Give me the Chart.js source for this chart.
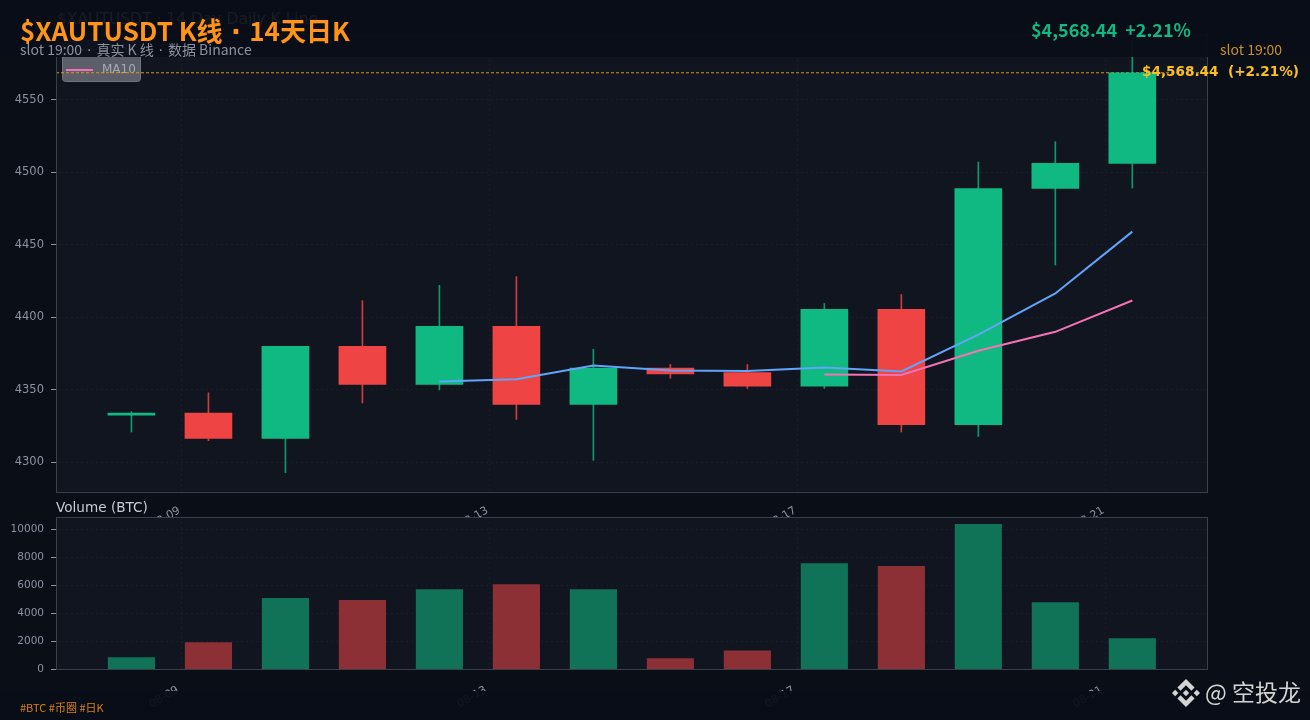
<!DOCTYPE html>
<html><head><meta charset="utf-8">
<script src="https://cdn.jsdelivr.net/npm/chart.js@4"></script>
<style>
html,body{margin:0;padding:0;background:#0a0e17;width:1310px;height:720px;overflow:hidden}
canvas{position:absolute;left:0}
.t{position:absolute;white-space:pre;line-height:1;font-family:"Noto Sans CJK SC","Noto Sans",sans-serif}
.d{display:inline-block;width:.57em;text-align:center;font-family:"DejaVu Sans"}
.band{position:absolute;left:0;width:1310px;background:rgba(10,14,23,.94)}
</style></head><body>
<canvas id="main" style="top:0"></canvas>
<canvas id="vol" style="top:517px"></canvas>
<div class="t" style="left:57px;top:10px;font:15.5px 'DejaVu Sans';color:#e5e7eb">$XAUTUSDT · 14 Day Daily K Line</div>
<div class="t" style="left:56px;top:499px;font:13.6px 'DejaVu Sans';color:#c8ccd4">Volume (BTC)</div>
<div class="band" style="top:0;height:57px"></div>
<div class="band" style="top:691px;height:29px"></div>
<div class="t" style="left:20px;top:17px;font-size:26px;font-weight:700;color:#ff9416">$XAUTUSDT K线 <span class="d">·</span> 14天日K</div>
<div class="t" style="left:20px;top:42px;font-size:14px;color:#8b92a0">slot 19:00 <span class="d">·</span> 真实 K 线 <span class="d">·</span> 数据 Binance</div>
<div class="t" style="left:1031px;top:20px;font-size:18px;font-weight:700;color:#10b981">$4,568.44  +2.21%</div>
<div class="t" style="left:1220px;top:42px;font-size:14px;color:#c8902a">slot 19:00</div>
<div class="t" style="left:1142px;top:63px;font:bold 13.6px 'DejaVu Sans';color:#fbbf24">$4,568.44  (+2.21%)</div>
<div class="t" style="left:20px;top:702px;font-size:11px;color:#d9800f">#BTC #币圈 #日K</div>
<svg style="position:absolute;left:1172px;top:679px" width="28" height="28" viewBox="0 0 24 24" fill="#d4d4d4"><path d="M16.624 13.92l2.718 2.72-7.353 7.353L4.636 16.64l2.718-2.72 4.635 4.64zm4.64-4.64L24 12l-2.718 2.72L18.55 12zm-9.28 0l2.72 2.72-2.72 2.72-2.72-2.71v-.01l.48-.48.23-.23zM2.718 9.28L5.44 12l-2.72 2.72L0 12zm9.27-9.28l7.353 7.34-2.72 2.72-4.634-4.63L7.35 10.07 4.63 7.35z"/></svg>
<div class="t" style="left:1205px;top:680px;font-size:23px;color:#d4d4d4">@ 空投龙</div>
<script>
const opens  = [4332.5,4334,4316.5,4380,4353.7,4393.7,4340,4365,4362,4352.5,4405.5,4326,4488.7,4506];
const closes = [4334,4316.5,4380,4353.7,4393.7,4340,4365,4361,4352.5,4405.5,4326,4488.7,4506,4568.44];
const highs  = [4335,4348,4380,4411.5,4422,4428,4378,4367.5,4367.5,4409.5,4415.7,4507,4521,4590];
const lows   = [4321,4315,4293,4341,4350,4329.6,4301.5,4358,4351,4351,4321,4318,4436,4489];
const volumes= [850,1920,5070,4930,5700,6060,5700,780,1340,7560,7360,10360,4780,2200];
const ma5    = [null,null,null,null,4355.8,4357.4,4366.8,4363.4,4363,4365.4,4362.7,4388,4416.4,4459];
const ma10   = [null,null,null,null,null,null,null,null,null,4360.6,4360.3,4377,4390,4411.6];
const lastPrice = 4568.44;
const priceTicks = [4300,4350,4400,4450,4500,4550];
const volumeTicks = [0,2000,4000,6000,8000,10000];
const tickPositions = [0.656,4.656,8.656,12.656];
const tickLabels = ['08-09','08-13','08-17','08-21'];
const xMin=-0.98, xMax=13.97;

const UP='#10b981', DOWN='#ef4444', VUP='#107256', VDOWN='#8c3036';
const isUp = i => closes[i]>=opens[i];
const candleColors = opens.map((_,i)=>isUp(i)?UP:DOWN);
const wickColors = opens.map((_,i)=>isUp(i)?'rgba(16,185,129,.8)':'rgba(239,68,68,.85)');
const volColors = opens.map((_,i)=>isUp(i)?VUP:VDOWN);

const panel = {
  id:'panel',
  beforeDraw(c){const a=c.chartArea,x=c.ctx;x.save();x.fillStyle='#111520';x.fillRect(a.left,a.top,a.right-a.left,a.bottom-a.top);x.restore();},
  afterDraw(c){const a=c.chartArea,x=c.ctx;x.save();x.strokeStyle='#3a3f4c';x.lineWidth=1;x.strokeRect(a.left+.5,a.top+.5,a.right-a.left,Math.floor(a.bottom)-a.top);x.restore();}
};
const legendBox = {
  id:'legendBox',
  beforeDatasetsDraw(c){
    const x=c.ctx;x.save();
    x.fillStyle='#5c5f69';x.strokeStyle='#70737c';x.lineWidth=1;
    x.beginPath();x.roundRect(62.5,40.5,78,41,3);x.fill();x.stroke();
    x.font="12px 'DejaVu Sans'";x.textBaseline='middle';
    [['MA5','#60a5fa',50],['MA10','#f472b6',70]].forEach(([s,col,y])=>{
      x.strokeStyle=col;x.lineWidth=2;x.beginPath();x.moveTo(66,y);x.lineTo(93,y);x.stroke();
      x.fillStyle='#a7a9b0';x.fillText(s,102,y);
    });
    x.restore();
  }
};
function xScale(h,pad,off){return {
  type:'linear',min:xMin,max:xMax,offset:false,
  afterBuildTicks(s){s.ticks=tickPositions.map(v=>({value:v}));},
  afterFit(s){s.height=h;s.paddingLeft=0;s.paddingRight=0;},
  grid:{offset:false,color:'rgba(255,255,255,.035)',drawTicks:false},
  border:{display:false,dash:[2,3]},
  ticks:{autoSkip:false,minRotation:30,maxRotation:30,padding:pad,labelOffset:off,color:'#8b92a0',font:{family:'DejaVu Sans',size:11},
    callback:(v,i)=>tickLabels[i]}
};}
function yScale(min,max,list,size){return {
  min,max,beginAtZero:false,
  afterBuildTicks(s){s.ticks=list.map(v=>({value:v}));},
  afterFit(s){s.width=56;s.paddingTop=0;s.paddingBottom=0;},
  grid:{color:'rgba(255,255,255,.035)',tickColor:'#8b92a0',tickLength:5,drawTicks:true,tickBorderDash:[]},
  border:{display:false,dash:[2,3]},
  ticks:{padding:7,color:'#8b92a0',font:{family:'DejaVu Sans',size},callback:v=>String(v)}
};}
const common={responsive:false,animation:false,devicePixelRatio:1,
  plugins:{legend:{display:false},tooltip:{enabled:false},title:{display:false}}};

const cm=document.getElementById('main');cm.width=1310;cm.height=517;
new Chart(cm,{type:'bar',plugins:[panel,legendBox],data:{datasets:[
  {type:'line',label:'MA5',data:ma5.map((y,x)=>({x,y})),borderColor:'#60a5fa',borderWidth:2,pointRadius:0,order:1},
  {type:'line',label:'MA10',data:ma10.map((y,x)=>({x,y})),borderColor:'#f472b6',borderWidth:2,pointRadius:0,order:2},
  {label:'Body',data:opens.map((o,i)=>({x:i,y:[o,closes[i]]})),backgroundColor:candleColors,barThickness:47,grouped:false,order:3},
  {label:'Wick',data:lows.map((l,i)=>({x:i,y:[l,highs[i]]})),backgroundColor:wickColors,barThickness:1,grouped:false,order:4},
  {type:'line',label:'Last',data:[{x:xMin,y:lastPrice},{x:xMax,y:lastPrice}],borderColor:'#d9961a',borderWidth:1,borderDash:[3,2],pointRadius:0,order:5}
]},options:{...common,
  layout:{padding:{left:0,right:103,top:34,bottom:0}},
  scales:{x:xScale(25,12,-2.5),y:yScale(4279.65,4595.15,priceTicks,11.5)}
}});

const cv=document.getElementById('vol');cv.width=1310;cv.height=203;
new Chart(cv,{type:'bar',plugins:[panel],data:{datasets:[
  {label:'Volume',data:volumes.map((y,x)=>({x,y})),backgroundColor:volColors,barThickness:46.5}
]},options:{...common,
  layout:{padding:{left:0,right:103,top:0,bottom:0}},
  scales:{x:xScale(50.5,14,-4),y:yScale(0,10877,volumeTicks,10.5)}
}});
</script>
</body></html>
